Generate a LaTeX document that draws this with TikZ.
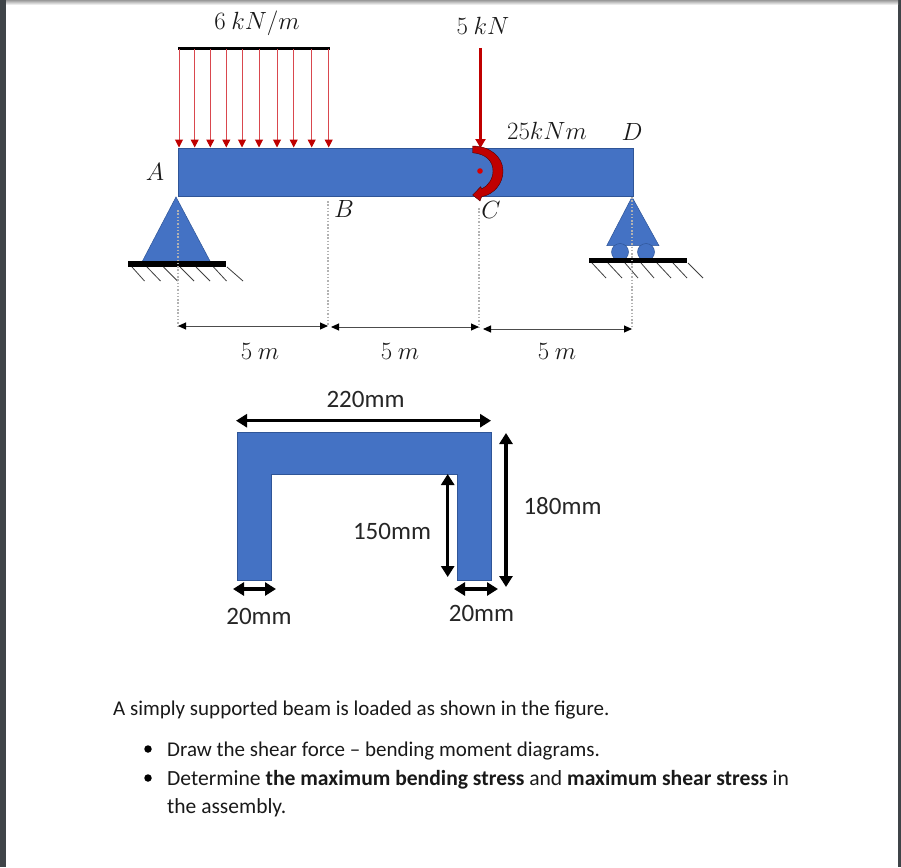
\documentclass[tikz,border=0pt]{standalone}
\usepackage{fontspec}
\setmainfont{Carlito}
\usetikzlibrary{arrows.meta}
\definecolor{beamblue}{HTML}{4472C4}
\definecolor{edgeblue}{HTML}{2F5597}
\definecolor{darkred}{HTML}{C00000}
\definecolor{udlred}{HTML}{D9484E}
\definecolor{pagebar}{HTML}{3F4448}
\tikzset{
  blueshape/.style={fill=beamblue,draw=edgeblue,line width=.5pt},
  groundbar/.style={fill=black,draw=none},
  hatchline/.style={draw=black!75,line width=.8pt},
  guide/.style={draw=black!30,line width=1.3pt,dash pattern=on 1.5pt off 1.8pt},
  udlarrow/.style={draw=udlred,line width=1pt,-{Triangle[length=8pt,width=8pt,color=darkred]}},
  spanarrow/.style={draw=black!70,line width=1pt,{Triangle[length=8pt,width=7pt,color=black]}-{Triangle[length=8pt,width=7pt,color=black]}},
  sizearrow/.style={draw=black,line width=3.2pt,{Triangle[length=11pt,width=13pt]}-{Triangle[length=11pt,width=13pt]}},
  mathlabel/.style={inner sep=0pt,font=\fontsize{25}{28}\selectfont,text=black!90},
  sizelabel/.style={inner sep=0pt,font=\fontsize{25}{28}\selectfont,text=black!85},
  bodytext/.style={inner sep=0pt,anchor=base west,font=\fontsize{21}{24}\selectfont,text=black!90},
  bulletdot/.style={circle,fill=black,inner sep=0pt,minimum size=7.5pt},
}
\begin{document}
\begin{tikzpicture}[x=1pt,y=-1pt]
\useasboundingbox (0,0) rectangle (901,867);
% page
\fill[pagebar] (0,0) rectangle (901,867);
\fill[white] (6,0) rectangle (898,867);
\shade[top color=black!40,bottom color=white] (6,0) rectangle (898,5);
% beam
\node[blueshape,minimum width=455pt,minimum height=48pt,inner sep=0pt] (beam) at (405.5,172) {};
\coordinate (gA0) at (178,210); \coordinate (gA) at (178,326);
\coordinate (gB0) at (328,201); \coordinate (gB) at (328,326);
\coordinate (gC0) at (479,208); \coordinate (gC) at (479,328);
\coordinate (gD0) at (632,197); \coordinate (gD) at (632,329);
% A support
\fill[blueshape] (176,197) -- (142.5,261) -- (210,261) -- cycle;
\fill[groundbar] (127.7,260.7) rectangle (226,266.7);
\foreach \s/\e in {132/144.5,147/160.5,163.5/177.5,180/194,196/210,213.5/226.5,227/243}
  \draw[hatchline] (\s,267) -- (\e,281);
% D support
\fill[blueshape] (632,197) -- (606.7,245.7) -- (659,245.7) -- cycle;
\draw[blueshape] (620,252) circle (8.5);
\draw[blueshape] (646,252) circle (8.5);
\fill[groundbar] (589,257.7) rectangle (687,263.3);
\foreach \s/\e in {592/606,608/622,625/638,641/654,657/671,673/687,688/703}
  \draw[hatchline] (\s,263) -- (\e,278);
% guides
\draw[guide] (gA0) -- (gA);
\draw[guide] (gB0) -- (gB);
\draw[guide] (gC0) -- (gC);
\draw[guide] (gD0) -- (gD);
% UDL
\coordinate (udlL) at (178,48.5); \coordinate (udlR) at (329.5,48.5);
\draw[black,line width=2.6pt] (udlL) -- (udlR);
\foreach \x in {179,194.7,210.3,226.3,242,259,277,293.7,311.7,328.7}
  \draw[udlarrow] (\x,49) -- (\x,147.5);
% point load
\coordinate (pTop) at (480.5,48); \coordinate (pEnd) at (480.5,148);
\draw[draw=darkred,line width=3pt,-{Triangle[length=9pt,width=10pt,color=darkred]}] (pTop) -- (pEnd);
% moment
\fill[darkred,draw=black!60!darkred,line width=.4pt] (472.5,146) -- (472.5,152.7) .. controls (486,154) and (493,161) .. (493,171)
  .. controls (493,179) and (488,186) .. (481.7,189) -- (480.7,186.7) -- (472.7,195) -- (480,201) -- (481.7,196.7)
  .. controls (495,194) and (503,183) .. (503,171) .. controls (503,157) and (490,146) .. (472.5,146) -- cycle;
\fill[red!85!black] (480,171) circle (2.8);
% span dims
\draw[spanarrow] (gA) -- (gB);
\coordinate (sB) at (331,327); \coordinate (sC) at (479,327);
\draw[spanarrow] (sB) -- (sC);
\coordinate (sC2) at (483,329);
\draw[spanarrow] (sC2) -- (gD);
% beam labels
\node[mathlabel] (lA) at (155,172) {$A$};
\node[mathlabel] (lB) at (344,209) {$B$};
\node[mathlabel] (lC) at (491,210) {$C$};
\node[mathlabel] (lD) at (632,132) {$D$};
\node[mathlabel] (lM) at (547,131) {$25kNm$};
\node[mathlabel] (lW) at (257,23) {$6\ kN/m$};
\node[mathlabel] (lP) at (483,26) {$5\ kN$};
\node[mathlabel] (s1) at (260,351) {$5\ m$};
\node[mathlabel] (s2) at (400,351) {$5\ m$};
\node[mathlabel] (s3) at (557,351) {$5\ m$};
% section
\draw[blueshape] (237.7,432.3) -- (491,432.3) -- (491,580) -- (457,580) -- (457,474.7) -- (271.7,474.7) -- (271.7,580) -- (237.7,580) -- cycle;
\coordinate (d1a) at (236,420.7); \coordinate (d1b) at (491,420.7);
\coordinate (d2a) at (506,433); \coordinate (d2b) at (506,587);
\coordinate (d3a) at (447.7,474); \coordinate (d3b) at (447.7,577);
\coordinate (d4a) at (233,589); \coordinate (d4b) at (276,589);
\coordinate (d5a) at (454,589); \coordinate (d5b) at (498,589);
\draw[sizearrow] (d1a) -- (d1b);
\draw[sizearrow] (d2a) -- (d2b);
\draw[sizearrow] (d3a) -- (d3b);
\draw[sizearrow] (d4a) -- (d4b);
\draw[sizearrow] (d5a) -- (d5b);
\node[sizelabel] (t1) at (365.5,399) {220mm};
\node[sizelabel] (t2) at (562.5,506) {180mm};
\node[sizelabel] (t3) at (392,531) {150mm};
\node[sizelabel] (t4) at (259,616) {20mm};
\node[sizelabel] (t5) at (481.5,613) {20mm};
% body text
\node[bodytext] (p1) at (113,715) {A simply supported beam is loaded as shown in the figure.};
\node[bulletdot] (b1) at (148,749) {};
\node[bodytext] (p2) at (167,756) {Draw the shear force -- bending moment diagrams.};
\node[bulletdot] (b2) at (148,778) {};
\node[bodytext,font=\fontsize{21.6}{24}\selectfont] (p3) at (167,785) {Determine \textbf{the maximum bending stress} and \textbf{maximum shear stress} in};
\node[bodytext,font=\fontsize{21.5}{24}\selectfont] (p4) at (167,813) {the assembly.};
\end{tikzpicture}
\end{document}
